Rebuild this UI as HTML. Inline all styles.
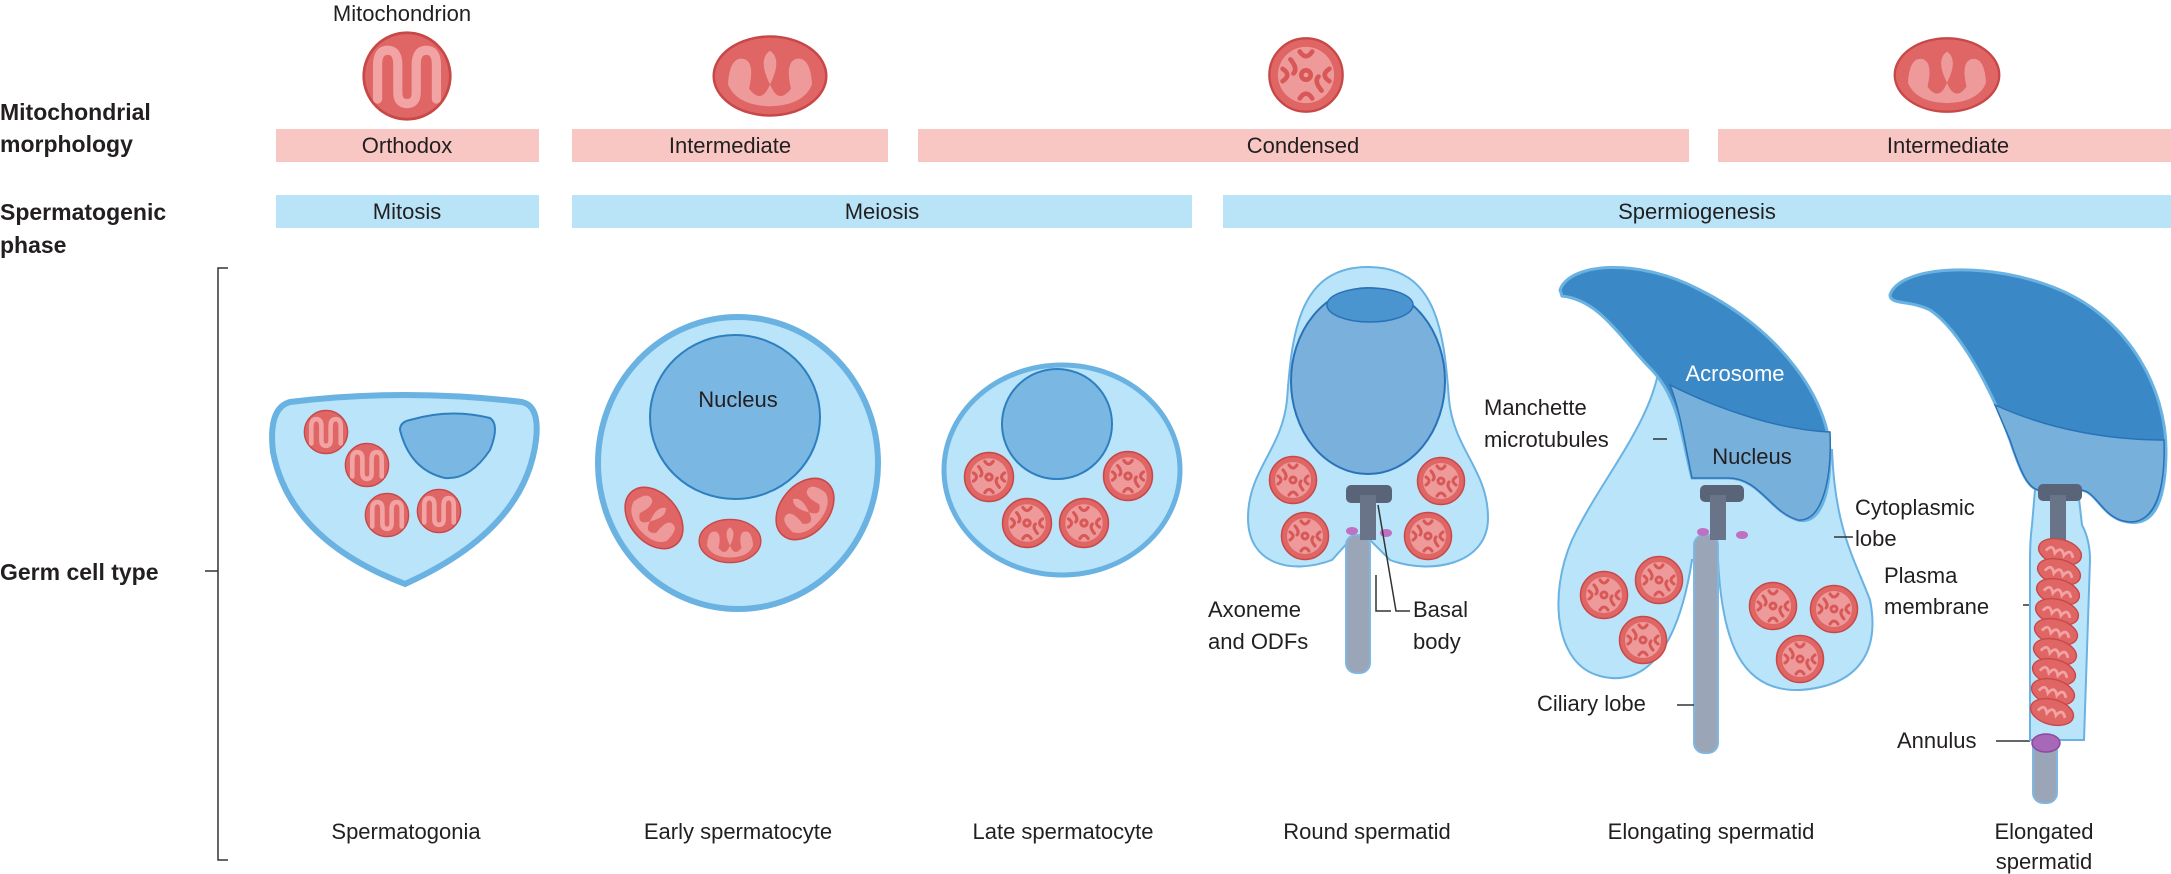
<!DOCTYPE html>
<html><head><meta charset="utf-8"><style>
html,body{margin:0;padding:0;background:#fff;}
svg{display:block;}
text{font-family:"Liberation Sans",sans-serif;fill:#231f20;}
.b{font-weight:bold;font-size:23px;}
.l{font-size:22px;}
</style></head><body>
<svg width="2171" height="874" viewBox="0 0 2171 874" xmlns="http://www.w3.org/2000/svg">
<defs>
<symbol id="mo" viewBox="-50 -50 100 100">
<circle r="47" fill="#e06666" stroke="#c84848" stroke-width="3"/>
<path d="M-32,25 L-32,-12 Q-32,-28 -21,-28 Q-10,-28 -10,-12 L-10,18 Q-10,30 0,30 Q10,30 10,18 L10,-12 Q10,-28 21,-28 Q32,-28 32,-12 L32,25" fill="none" stroke="#f2a3a3" stroke-width="10" stroke-linecap="round"/>
</symbol>
<symbol id="mi" viewBox="-70 -50 140 100">
<ellipse rx="67" ry="47" fill="#e06666" stroke="#c84848" stroke-width="3"/>
<path d="M-50,10 Q-48,-25 -30,-20 Q-18,-15 -25,15 Q-10,35 0,10 Q-15,-20 0,-30 Q15,-20 0,10 Q10,35 25,15 Q18,-15 30,-20 Q48,-25 50,10 Q40,35 0,36 Q-40,35 -50,10Z" fill="#ee9a9a"/>
</symbol>
<symbol id="mc" viewBox="-50 -50 100 100">
<circle r="47" fill="#e06666" stroke="#c84848" stroke-width="3"/>
<circle r="36" fill="#ee9a9a"/>
<g fill="none" stroke="#d85858" stroke-width="6" stroke-linecap="round">
<path d="M-8,-30 Q0,-18 8,-30"/><path d="M-8,30 Q0,18 8,30"/>
<path d="M-30,-8 Q-18,0 -30,8"/><path d="M30,-8 Q18,0 30,8"/>
<path d="M-20,-20 Q-10,-8 -16,-2"/><path d="M20,20 Q10,8 16,2"/>
<circle r="6"/>
</g>
</symbol>
<symbol id="me" viewBox="-50 -30 100 60">
<ellipse rx="47" ry="27" fill="#e06666" stroke="#c84848" stroke-width="3"/>
<path d="M-30,5 Q-20,-15 -10,5 Q0,-15 10,5 Q20,-15 30,5" fill="none" stroke="#f2a3a3" stroke-width="6"/>
</symbol>
</defs>

<!-- top mitochondria -->
<text class="l" x="402" y="21" text-anchor="middle">Mitochondrion</text>
<use href="#mo" x="361" y="30" width="92" height="92"/>
<use href="#mi" x="703" y="34" width="134" height="84"/>
<use href="#mc" x="1267" y="36" width="78" height="78"/>
<use href="#mi" x="1880" y="36" width="134" height="78"/>

<!-- left labels -->
<text class="b" x="0" y="120">Mitochondrial</text>
<text class="b" x="0" y="152">morphology</text>
<text class="b" x="0" y="220">Spermatogenic</text>
<text class="b" x="0" y="253">phase</text>
<text class="b" x="0" y="580">Germ cell type</text>
<path d="M228,268 H218 V860 H228 M218,571 H205" fill="none" stroke="#333" stroke-width="1.5"/>

<!-- bars -->
<g fill="#f8c7c3">
<rect x="276" y="129" width="263" height="33"/>
<rect x="572" y="129" width="316" height="33"/>
<rect x="918" y="129" width="771" height="33"/>
<rect x="1718" y="129" width="453" height="33"/>
</g>
<g fill="#b9e4f8">
<rect x="276" y="195" width="263" height="33"/>
<rect x="572" y="195" width="620" height="33"/>
<rect x="1223" y="195" width="948" height="33"/>
</g>
<g class="l" text-anchor="middle">
<text x="407" y="153">Orthodox</text>
<text x="730" y="153">Intermediate</text>
<text x="1303" y="153">Condensed</text>
<text x="1948" y="153">Intermediate</text>
<text x="407" y="219">Mitosis</text>
<text x="882" y="219">Meiosis</text>
<text x="1697" y="219">Spermiogenesis</text>
</g>

<!-- Spermatogonia -->
<path d="M290,402 Q405,388 522,402 Q540,406 536,440 Q525,530 405,584 Q290,540 273,452 Q268,408 290,402 Z" fill="#b9e4f9" stroke="#6ab2e2" stroke-width="6"/>
<path d="M410,420 Q450,408 490,418 Q500,425 490,450 Q470,480 445,478 Q410,470 400,430 Q400,422 410,420Z" fill="#7ab8e3" stroke="#2e7fc0" stroke-width="2"/>
<use href="#mo" x="303" y="409" width="46" height="46"/>
<use href="#mo" x="344" y="442" width="46" height="46"/>
<use href="#mo" x="364" y="492" width="46" height="46"/>
<use href="#mo" x="416" y="488" width="46" height="46"/>

<!-- Early spermatocyte -->
<ellipse cx="738" cy="463" rx="140" ry="146" fill="#b9e4f9" stroke="#6ab2e2" stroke-width="6"/>
<ellipse cx="735" cy="417" rx="85" ry="82" fill="#7ab8e3" stroke="#2e7fc0" stroke-width="2"/>
<text class="l" x="738" y="407" text-anchor="middle">Nucleus</text>
<g transform="translate(654,518) rotate(50)"><use href="#mi" x="-36" y="-26" width="72" height="52"/></g>
<use href="#mi" x="694" y="518" width="72" height="46"/>
<g transform="translate(805,509) rotate(-50)"><use href="#mi" x="-36" y="-26" width="72" height="52"/></g>

<!-- Late spermatocyte -->
<ellipse cx="1062" cy="470" rx="118" ry="105" fill="#b9e4f9" stroke="#6ab2e2" stroke-width="5"/>
<circle cx="1057" cy="424" r="55" fill="#7ab8e3" stroke="#2e7fc0" stroke-width="2"/>
<use href="#mc" x="963" y="451" width="52" height="52"/>
<use href="#mc" x="1001" y="497" width="52" height="52"/>
<use href="#mc" x="1058" y="497" width="52" height="52"/>
<use href="#mc" x="1102" y="450" width="52" height="52"/>

<!-- Round spermatid -->
<path d="M1368,267 C1300,267 1292,330 1287,400 C1282,450 1248,470 1248,518 C1248,565 1292,575 1332,560 L1350,540 L1370,540 L1390,560 C1430,575 1488,565 1488,518 C1488,470 1454,450 1449,400 C1444,330 1436,267 1368,267 Z" fill="#b9e4f9" stroke="#6ab2e2" stroke-width="2"/>
<ellipse cx="1368" cy="381" rx="77" ry="93" fill="#7ab0dc" stroke="#2a72b8" stroke-width="2"/>
<ellipse cx="1370" cy="305" rx="43" ry="17" fill="#4a94cf" stroke="#2a72b8" stroke-width="1.5"/>
<use href="#mc" x="1268" y="455" width="50" height="50"/>
<use href="#mc" x="1416" y="456" width="50" height="50"/>
<use href="#mc" x="1280" y="511" width="50" height="50"/>
<use href="#mc" x="1403" y="511" width="50" height="50"/>
<rect x="1346" y="535" width="24" height="138" rx="10" fill="#9aa6b8" stroke="#7fb7e0" stroke-width="2"/>
<rect x="1346" y="485" width="46" height="18" rx="5" fill="#5a6478"/>
<rect x="1360" y="495" width="16" height="45" fill="#6a7488"/>
<ellipse cx="1352" cy="531" rx="6" ry="4" fill="#c070c0"/><ellipse cx="1386" cy="533" rx="6" ry="4" fill="#c070c0"/>
<path d="M1391,611 H1376 V575 M1410,611 H1396 L1378,505" fill="none" stroke="#333" stroke-width="1.5"/>
<g class="l">
<text x="1208" y="617">Axoneme</text><text x="1208" y="649">and ODFs</text>
<text x="1413" y="617">Basal</text><text x="1413" y="649">body</text>
</g>

<!-- Elongating spermatid -->
<path d="M1660,360 C1655,420 1600,480 1572,540 C1548,595 1555,665 1600,676 C1645,688 1678,650 1692,560 L1718,560 C1722,640 1740,692 1800,690 C1860,686 1880,650 1870,600 C1855,560 1835,530 1832,450 L1700,470 Z" fill="#b9e4f9" stroke="#6ab2e2" stroke-width="2"/>
<path d="M1560,290 C1570,262 1640,258 1700,290 C1780,330 1830,400 1830,455 C1830,495 1820,525 1798,520 C1770,512 1760,478 1728,478 L1692,478 C1682,440 1680,400 1652,370 C1620,338 1600,300 1562,296 Z" fill="#3a89c6" stroke="#6ab2e2" stroke-width="3"/>
<path d="M1670,385 C1720,410 1780,430 1830,432 C1832,480 1822,522 1798,520 C1770,512 1760,478 1728,478 L1692,478 C1684,440 1680,410 1670,385Z" fill="#78b0dc" stroke="#2a72b8" stroke-width="1.5"/>
<use href="#mc" x="1579" y="570" width="50" height="50"/>
<use href="#mc" x="1634" y="555" width="50" height="50"/>
<use href="#mc" x="1618" y="615" width="50" height="50"/>
<use href="#mc" x="1748" y="581" width="50" height="50"/>
<use href="#mc" x="1809" y="584" width="50" height="50"/>
<use href="#mc" x="1775" y="634" width="50" height="50"/>
<rect x="1694" y="535" width="24" height="218" rx="10" fill="#9aa6b8" stroke="#7fb7e0" stroke-width="2"/>
<rect x="1700" y="485" width="44" height="17" rx="5" fill="#5a6478"/>
<rect x="1710" y="495" width="16" height="45" fill="#6a7488"/>
<ellipse cx="1703" cy="532" rx="6" ry="4" fill="#c070c0"/><ellipse cx="1742" cy="535" rx="6" ry="4" fill="#c070c0"/>
<text x="1735" y="381" font-size="22" fill="#fff" style="fill:#fff" text-anchor="middle">Acrosome</text>
<text class="l" x="1752" y="464" text-anchor="middle">Nucleus</text>
<g class="l">
<text x="1484" y="415">Manchette</text><text x="1484" y="447">microtubules</text>
<text x="1855" y="515">Cytoplasmic</text><text x="1855" y="546">lobe</text>
<text x="1884" y="583">Plasma</text><text x="1884" y="614">membrane</text>
<text x="1537" y="711">Ciliary lobe</text>
<text x="1897" y="748">Annulus</text>
</g>
<path d="M1653,439 H1667 M1834,537 H1853 M1677,705 H1694 M2023,605 H2035 M1996,741 H2030" stroke="#333" stroke-width="1.5"/>

<!-- Elongated spermatid -->
<path d="M2035,490 L2032,525 Q2030,540 2030,560 L2030,740 L2084,740 L2090,560 Q2090,540 2082,525 L2078,490 Z" fill="#b9e4f9" stroke="#6ab2e2" stroke-width="2"/>
<path d="M1890,295 C1900,265 1990,260 2060,290 C2130,320 2166,390 2166,450 C2166,510 2150,530 2120,520 C2100,512 2095,490 2080,490 L2040,490 C2028,490 2020,470 2010,440 C1992,390 1960,330 1930,310 C1910,300 1890,305 1890,295 Z" fill="#3a89c6" stroke="#6ab2e2" stroke-width="3"/>
<path d="M1995,405 C2050,430 2110,440 2164,440 C2166,500 2150,530 2120,520 C2100,512 2095,490 2080,490 L2040,490 C2028,490 2020,470 2010,440 Z" fill="#78b0dc" stroke="#2a72b8" stroke-width="1.5"/>
<rect x="2033" y="735" width="24" height="68" rx="10" fill="#9aa6b8" stroke="#7fb7e0" stroke-width="2"/>
<rect x="2038" y="484" width="44" height="17" rx="5" fill="#5a6478"/>
<rect x="2050" y="495" width="16" height="45" fill="#6a7488"/>
<g>
<use href="#me" x="2036" y="538" width="48" height="28" transform="rotate(15 2060 552)"/>
<use href="#me" x="2035" y="558" width="48" height="28" transform="rotate(15 2059 572)"/>
<use href="#me" x="2034" y="578" width="48" height="28" transform="rotate(15 2058 592)"/>
<use href="#me" x="2033" y="598" width="48" height="28" transform="rotate(15 2057 612)"/>
<use href="#me" x="2032" y="618" width="48" height="28" transform="rotate(15 2056 632)"/>
<use href="#me" x="2031" y="638" width="48" height="28" transform="rotate(15 2055 652)"/>
<use href="#me" x="2030" y="658" width="48" height="28" transform="rotate(15 2054 672)"/>
<use href="#me" x="2029" y="678" width="48" height="28" transform="rotate(15 2053 692)"/>
<use href="#me" x="2028" y="698" width="48" height="28" transform="rotate(15 2052 712)"/>
</g>
<ellipse cx="2046" cy="743" rx="14" ry="9" fill="#a868b8" stroke="#8a4aa0" stroke-width="1.5"/>

<!-- bottom labels -->
<g class="l" text-anchor="middle">
<text x="406" y="839">Spermatogonia</text>
<text x="738" y="839">Early spermatocyte</text>
<text x="1063" y="839">Late spermatocyte</text>
<text x="1367" y="839">Round spermatid</text>
<text x="1711" y="839">Elongating spermatid</text>
<text x="2044" y="839">Elongated</text>
<text x="2044" y="869">spermatid</text>
</g>
</svg>
</body></html>
